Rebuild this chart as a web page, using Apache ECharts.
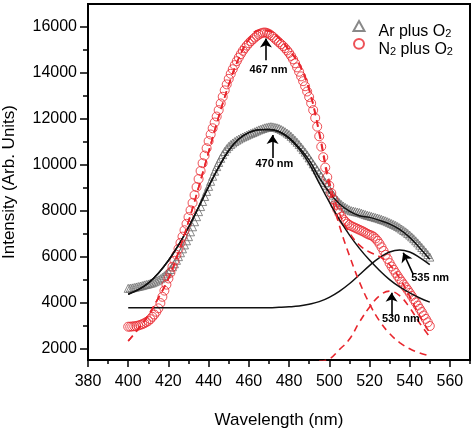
<!DOCTYPE html>
<html>
<head>
<meta charset="utf-8">
<script src="https://cdn.jsdelivr.net/npm/echarts@6/dist/echarts.min.js"></script>
<style>
  html, body { margin: 0; padding: 0; background: #fff; }
  #chart { width: 474px; height: 432px; }
</style>
</head>
<body>
<div id="chart"></div>
<script>
// measured spectra, 1 nm steps from 400 to 550 nm
const scanStart = 400;
const scanEnd = 550;

const arIntensity = [
    4620, 4630, 4640, 4660, 4680, 4700, 4720, 4740, 4770, 4790,
    4810, 4840, 4860, 4900, 4940, 4990, 5040, 5100, 5170, 5250,
    5340, 5440, 5560, 5690, 5840, 6000, 6170, 6340, 6510, 6690,
    6870, 7080, 7300, 7520, 7740, 7960, 8180, 8400, 8620, 8840,
    9060, 9280, 9500, 9720, 9920, 10100, 10280, 10440, 10580, 10700,
    10800, 10880, 10950, 11010, 11070, 11120, 11170, 11210, 11250, 11290,
    11330, 11370, 11400, 11440, 11480, 11520, 11550, 11580, 11610, 11630,
    11650, 11660, 11650, 11630, 11610, 11580, 11540, 11490, 11440, 11380,
    11320, 11240, 11160, 11070, 10980, 10880, 10770, 10660, 10550, 10430,
    10300, 10170, 10040, 9910, 9780, 9650, 9510, 9370, 9230, 9090,
    8950, 8810, 8680, 8560, 8450, 8350, 8270, 8200, 8140, 8090,
    8040, 8000, 7980, 7960, 7940, 7920, 7890, 7860, 7830, 7800,
    7780, 7750, 7730, 7700, 7680, 7650, 7620, 7590, 7560, 7520,
    7480, 7440, 7400, 7360, 7310, 7260, 7200, 7140, 7080, 7010,
    6940, 6860, 6780, 6690, 6600, 6500, 6400, 6300, 6200, 6090,
    5980
];

const n2Intensity = [
    2950, 2950, 2960, 2970, 2980, 3000, 3030, 3060, 3100, 3150,
    3200, 3280, 3380, 3480, 3600, 3750, 3980, 4250, 4520, 4780,
    5050, 5300, 5560, 5820, 6080, 6340, 6600, 6870, 7150, 7430,
    7720, 8020, 8340, 8680, 9030, 9380, 9730, 10070, 10400, 10720,
    11030, 11320, 11590, 11840, 12100, 12380, 12670, 12960, 13240, 13500,
    13740, 13960, 14160, 14340, 14510, 14670, 14820, 14960, 15080, 15190,
    15290, 15380, 15460, 15540, 15610, 15670, 15720, 15750, 15760, 15740,
    15700, 15640, 15570, 15490, 15410, 15330, 15250, 15170, 15080, 14980,
    14870, 14740, 14590, 14420, 14240, 14050, 13850, 13640, 13420, 13190,
    12950, 12680, 12380, 12040, 11660, 11240, 10790, 10330, 9880, 9460,
    9090, 8770, 8490, 8250, 8050, 7880, 7740, 7620, 7520, 7440,
    7380, 7330, 7290, 7250, 7210, 7170, 7130, 7090, 7040, 6990,
    6950, 6920, 6870, 6790, 6690, 6560, 6410, 6250, 6080, 5900,
    5720, 5570, 5430, 5290, 5160, 5030, 4910, 4790, 4670, 4550,
    4420, 4290, 4150, 4010, 3870, 3730, 3590, 3440, 3290, 3140,
    2980
];

// gaussian fits, read every 5 nm
const fitNm = [
    400, 405, 410, 415, 420, 425, 430, 435, 440, 445,
    450, 455, 460, 465, 470, 475, 480, 485, 490, 495,
    500, 505, 510, 515, 520, 525, 530, 535, 540, 545, 550
];
const arFitTotal = [
    4360, 4560, 4850, 5280, 5830, 6500, 7280, 8150, 9050, 9900,
    10620, 11120, 11400, 11520, 11540, 11455, 11185, 10750, 10200, 9450,
    8800, 8300, 7980, 7780, 7710, 7580, 7420, 7190, 6840, 6380, 5890
];
const arFitPeak1 = [
    4360, 4560, 4850, 5280, 5830, 6500, 7280, 8150, 9050, 9900,
    10620, 11120, 11400, 11520, 11540, 11440, 11150, 10680, 10050, 9200,
    8380, 7620, 6950, 6360, 5850, 5400, 5000, 4680, 4420, 4200, 4020
];
const arFitPeak2 = [
    3780, 3780, 3780, 3780, 3780, 3780, 3780, 3780, 3780, 3780,
    3780, 3780, 3780, 3780, 3780, 3795, 3815, 3850, 3930, 4040,
    4230, 4490, 4820, 5210, 5610, 5960, 6200, 6290, 6200, 5960, 5650
];
const n2FitTotal = [
    2330, 2850, 3450, 4200, 5040, 6190, 7530, 9010, 10560, 12090,
    13480, 14640, 15450, 15860, 15830, 15520, 15000, 14400, 13300, 11450,
    9300, 7900, 7050, 6500, 6200, 6000, 5650, 5060, 4270, 3420, 2680
];
const n2FitPeak1 = [
    2330, 2850, 3450, 4200, 5040, 6190, 7530, 9010, 10560, 12090,
    13480, 14640, 15450, 15860, 15830, 15510, 14980, 14370, 13250, 11350,
    9050, 7360, 6050, 4900, 3950, 3200, 2650, 2260, 1990, 1800, 1680
];
const n2Peak2Nm = [495, 500, 505, 510, 515, 520, 525, 530, 535, 540, 545, 550];
const n2FitPeak2 = [1450, 1540, 1950, 2400, 3150, 3800, 4300, 4500, 4300, 3780, 3100, 2500];

// peak markers: [label, tail nm, tail value, tip nm, tip value, text nm, text value]
const peakNotes = [
    ['467 nm', 468.5, 14550, 468.5, 15500, 469.8, 14120],
    ['470 nm', 471.8, 10290, 471.8, 11300, 472.7, 10020],
    ['535 nm', 541.8, 5220, 536.8, 6170, 550.2, 5080],
    ['530 nm', 531, 3410, 531, 4430, 535.6, 3270]
];

const xMin = 380, xMax = 570;
const yMin = 1500, yMax = 17000;
const xTickValues = [380, 400, 420, 440, 460, 480, 500, 520, 540, 560];
const xMinorTicks = [390, 410, 430, 450, 470, 490, 510, 530, 550, 570];
const yTickValues = [2000, 4000, 6000, 8000, 10000, 12000, 14000, 16000];
const yMinorTicks = [3000, 5000, 7000, 9000, 11000, 13000, 15000];

const scanNm = [];
for (let nm = scanStart; nm <= scanEnd; nm++) {
    scanNm.push(nm);
}
const pairs = (xs, ys) => xs.map((x, i) => [x, ys[i]]);

const fontFamily = '"Liberation Sans", Arial, sans-serif';
const redColor = '#e8262d';
const fitLine = (name, xs, ys, color, dashed) => ({
    name: name,
    type: 'line',
    data: pairs(xs, ys),
    smooth: 0.4,
    showSymbol: false,
    silent: true,
    z: 4,
    lineStyle: {
        color: color,
        width: dashed ? 1.6 : 1.5,
        type: dashed ? [7, 5] : 'solid',
    },
});

const gridBox = {left: 88, right: 4, top: 4, bottom: 72, outerBoundsMode: 'none', containLabel: false};

// legend icons sit in the upper half of the item, as in the original figure
const triangleIcon = 'path://M5,0L10,9L0,9Z M0,19';
const circleIcon = 'path://M0,4.5A4.5,4.5,0,1,1,9,4.5A4.5,4.5,0,1,1,0,4.5Z M0,19';

const chart = echarts.init(document.getElementById('chart'));

let options = {
    animation: false,
    backgroundColor: '#fff',
    textStyle: {fontFamily: fontFamily},
    grid: [
        Object.assign({show: true, borderColor: '#000', borderWidth: 2}, gridBox),
        Object.assign({show: false}, gridBox),
    ],
    legend: {
        data: [
            {name: 'Ar plus O2', icon: triangleIcon},
            {name: 'N2 plus O2', icon: circleIcon},
        ],
        orient: 'vertical',
        left: 352.5,
        top: 20,
        padding: 0,
        itemWidth: 11,
        itemHeight: 21,
        itemGap: -5,
        symbolKeepAspect: true,
        textStyle: {
            fontSize: 16,
            color: '#000',
            fontFamily: fontFamily,
            padding: [0, 0, 0, 9],
            rich: {
                sub: {fontSize: 11, verticalAlign: 'bottom', lineHeight: 10, padding: [8, 0, 0, 0]},
            },
        },
        formatter: (name) => name === 'Ar plus O2' ? 'Ar plus O{sub|2}' : 'N{sub|2} plus O{sub|2}',
    },
    xAxis: [
        {
            gridIndex: 0,
            type: 'value',
            min: xMin,
            max: xMax,
            name: 'Wavelength (nm)',
            nameLocation: 'middle',
            nameGap: 52,
            nameTextStyle: {fontSize: 17, color: '#000', fontFamily: fontFamily},
            axisLine: {lineStyle: {color: '#000', width: 2}},
            axisTick: {customValues: xTickValues, length: 7, lineStyle: {color: '#000', width: 1.5}},
            axisLabel: {customValues: xTickValues, fontSize: 16, color: '#000', margin: 14, fontFamily: fontFamily},
            splitLine: {show: false},
        },
        {
            gridIndex: 1,
            type: 'value',
            min: xMin,
            max: xMax,
            axisLine: {show: false},
            axisTick: {customValues: xMinorTicks, length: 4, lineStyle: {color: '#000', width: 1.5}},
            axisLabel: {show: false},
            splitLine: {show: false},
        },
    ],
    yAxis: [
        {
            gridIndex: 0,
            type: 'value',
            min: yMin,
            max: yMax,
            name: 'Intensity (Arb. Units)',
            nameLocation: 'middle',
            nameGap: 70,
            nameTextStyle: {fontSize: 17, color: '#000', fontFamily: fontFamily},
            axisLine: {show: true, lineStyle: {color: '#000', width: 2}},
            axisTick: {show: true, customValues: yTickValues, length: 8, lineStyle: {color: '#000', width: 1.5}},
            axisLabel: {
                customValues: yTickValues,
                fontSize: 16,
                color: '#000',
                margin: 11,
                fontFamily: fontFamily,
                formatter: (v) => String(v),
            },
            splitLine: {show: false},
        },
        {
            gridIndex: 1,
            type: 'value',
            min: yMin,
            max: yMax,
            axisLine: {show: false},
            axisTick: {show: true, customValues: yMinorTicks, length: 5, lineStyle: {color: '#000', width: 1.5}},
            axisLabel: {show: false},
            splitLine: {show: false},
        },
    ],
    series: [
        {
            name: 'Ar plus O2',
            type: 'scatter',
            data: pairs(scanNm, arIntensity),
            symbol: 'triangle',
            symbolSize: 8,
            z: 2,
            itemStyle: {color: 'rgba(0,0,0,0)', borderColor: '#6b6b6b', borderWidth: 1},
        },
        {
            name: 'N2 plus O2',
            type: 'scatter',
            data: pairs(scanNm, n2Intensity),
            symbol: 'circle',
            symbolSize: 9,
            z: 2,
            itemStyle: {color: 'rgba(0,0,0,0)', borderColor: redColor, borderWidth: 1},
        },
        fitLine('Ar fit', fitNm, arFitTotal, '#111', false),
        fitLine('Ar peak 1', fitNm, arFitPeak1, '#111', false),
        fitLine('Ar peak 2', fitNm, arFitPeak2, '#111', false),
        fitLine('N2 fit', fitNm, n2FitTotal, redColor, true),
        fitLine('N2 peak 1', fitNm, n2FitPeak1, redColor, true),
        fitLine('N2 peak 2', n2Peak2Nm, n2FitPeak2, redColor, true),
        {
            name: 'notes',
            type: 'line',
            data: [],
            silent: true,
            z: 6,
            markLine: {
                silent: true,
                symbol: ['none', 'arrow'],
                symbolSize: 9,
                label: {show: false},
                lineStyle: {color: '#000', width: 1.6, type: 'solid'},
                data: peakNotes.map(n => [{coord: [n[1], n[2]]}, {coord: [n[3], n[4]]}]),
            },
            markPoint: {
                silent: true,
                symbol: 'circle',
                symbolSize: 0,
                label: {
                    show: true,
                    position: 'inside',
                    color: '#000',
                    fontSize: 11,
                    fontWeight: 'bold',
                    fontFamily: fontFamily,
                    formatter: (p) => p.name,
                },
                data: peakNotes.map(n => ({name: n[0], coord: [n[5], n[6]]})),
            },
        },
    ],
};

chart.setOption(options);
</script>
</body>
</html>
